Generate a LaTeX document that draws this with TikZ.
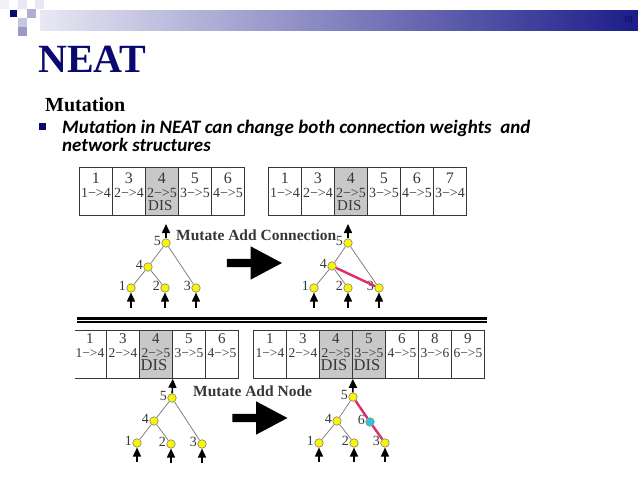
\documentclass[tikz,border=0pt]{standalone}
\usepackage{fontspec}
\setmainfont{Liberation Serif}
\newfontfamily\bulletfont{Carlito}
\usetikzlibrary{arrows.meta, shapes.arrows, calc}
\definecolor{barblue}{RGB}{28,28,138}
\definecolor{barlight}{RGB}{232,232,244}
\definecolor{titlenavy}{RGB}{10,10,110}
\definecolor{neuronyellow}{RGB}{250,245,0}
\definecolor{hiddencyan}{RGB}{40,200,225}
\definecolor{newpink}{RGB}{222,45,105}
\definecolor{disgray}{RGB}{200,200,200}
\definecolor{inkgray}{RGB}{55,55,55}

\begin{document}
\begin{tikzpicture}[x=1pt, y=-1pt,
    gene/.style={rectangle, draw=inkgray, line width=0.8pt, minimum width=33pt, minimum height=48pt, anchor=north west, inner sep=0pt},
    offgene/.style={gene, fill=disgray},
    num/.style={font=\fontsize{16}{16}\selectfont, text=inkgray, inner sep=0pt},
    con/.style={font=\fontsize{14}{14}\selectfont, text=inkgray, inner sep=0pt},
    dis/.style={font=\fontsize{15}{15}\selectfont, text=inkgray, inner sep=0pt, anchor=west},
    neuron/.style={circle, draw=gray, fill=neuronyellow, line width=0.6pt, minimum size=8.5pt, inner sep=0pt},
    hidden/.style={neuron, fill=hiddencyan},
    nid/.style={font=\fontsize{14}{14}\selectfont, text=inkgray, inner sep=0.5pt, yshift=2pt},
    link/.style={draw=gray, line width=0.8pt},
    newlink/.style={draw=newpink, line width=2.4pt},
    signal/.style={-{Triangle[width=8pt,length=9pt]}, line width=1.6pt, black},
    mutlabel/.style={font=\fontsize{15.5}{16}\selectfont\bfseries, text=inkgray, anchor=west, inner sep=0pt},
    bullettext/.style={font=\bulletfont\fontsize{19}{19}\selectfont\bfseries\itshape, anchor=base west, inner sep=0pt},
    bigarrow/.style={single arrow, fill=black, inner xsep=0pt, inner ysep=4pt, minimum height=55pt, single arrow head extend=12.5pt, single arrow tip angle=56}
]
    \useasboundingbox (0,0) rectangle (638,479);

    % slide header
    \fill[barlight!60] (0,0) rectangle (9,9);
    \fill[barlight] (18,0) rectangle (27,9);
    \fill[barlight] (35,0) rectangle (44,9);
    \fill[titlenavy] (10,10) rectangle (17,17);
    \fill[barblue!35] (27,9) rectangle (36,18);
    \fill[barblue!25] (18,18) rectangle (27,27);
    \fill[barblue!45] (18,27) rectangle (27,36);
    \shade[left color=barlight, right color=barblue] (40,10) rectangle (638,30);
    \node[font=\fontsize{9}{9}\selectfont, text=titlenavy!70!black] (pageno) at (628,20) {10};
    \node[font=\fontsize{40}{40}\selectfont\bfseries, text=titlenavy, anchor=base west, inner sep=0pt] (title) at (38,72) {NEAT};
    \node[font=\fontsize{20}{20}\selectfont\bfseries, anchor=base west, inner sep=0pt] (sub) at (45,111) {Mutation};
    \fill[titlenavy] (39,123) rectangle (46,130);
    \node[bullettext] (txt1) at (62,133) {Mutation in NEAT can change both connection weights \ and};
    \node[bullettext] (txt2) at (62,151) {network structures};

    % add connection: genomes
    \foreach \n/\c/\s [count=\i] in {1/1−>4/gene, 3/2−>4/gene, 4/2−>5/offgene, 5/3−>5/gene, 6/4−>5/gene} {
        \node[\s] (p\i) at (46+33*\i, 167) {};
        \node[num] at ([yshift=-11pt]p\i.north) {\n};
        \node[con] at ([yshift=-25.5pt]p\i.north) {\c};
    }
    \node[dis] at ([xshift=3pt, yshift=-14.5pt]p3.west) {DIS};
    \foreach \n/\c/\s [count=\i] in {1/1−>4/gene, 3/2−>4/gene, 4/2−>5/offgene, 5/3−>5/gene, 6/4−>5/gene, 7/3−>4/gene} {
        \node[\s] (r\i) at (235+33*\i, 167) {};
        \node[num] at ([yshift=-11pt]r\i.north) {\n};
        \node[con] at ([yshift=-25.5pt]r\i.north) {\c};
    }
    \node[dis] at ([xshift=3pt, yshift=-14.5pt]r3.west) {DIS};

    % add connection: networks
    \node[mutlabel] (addcon) at (176,235) {Mutate Add Connection};
    \node[neuron, label={[nid]left:5}] (a5) at (166,243) {};
    \node[neuron, label={[nid]left:4}] (a4) at (148,267) {};
    \node[neuron, label={[nid]left:1}] (a1) at (131,288) {};
    \node[neuron, label={[nid]left:2}] (a2) at (165,288) {};
    \node[neuron, label={[nid]left:3}] (a3) at (196,288) {};
    \draw[link] (a5) -- (a4);
    \draw[link] (a4) -- (a1);
    \draw[link] (a4) -- (a2);
    \draw[link] (a5) -- (a3);
    \coordinate (aout) at (166,224);
    \draw[signal] (a5) -- (aout);
    \foreach \k in {1,2,3} {
        \coordinate (ain\k) at ($(a\k)+(0,20)$);
        \draw[signal] (ain\k) -- (a\k);
    }

    \node[bigarrow] (mutA) at (250.5,263) {};

    \node[neuron, label={[nid]left:5}] (b5) at (348,243) {};
    \node[neuron, label={[nid]left:4}] (b4) at (332,266) {};
    \node[neuron, label={[nid]left:1}] (b1) at (314,288) {};
    \node[neuron, label={[nid]left:2}] (b2) at (348,288) {};
    \node[neuron, label={[nid]left:3}] (b3) at (379,288) {};
    \draw[link] (b5) -- (b4);
    \draw[link] (b4) -- (b1);
    \draw[link] (b4) -- (b2);
    \draw[link] (b5) -- (b3);
    \draw[newlink] (b4) -- (b3);
    \coordinate (bout) at (348,224);
    \draw[signal] (b5) -- (bout);
    \foreach \k in {1,2,3} {
        \coordinate (bin\k) at ($(b\k)+(0,20)$);
        \draw[signal] (bin\k) -- (b\k);
    }

    % divider
    \draw[line width=2.2pt] (77,318.5) -- (487,318.5);
    \draw[line width=2pt] (77,322) -- (487,322);

    % add node: genomes
    \begin{scope}
        \clip (75,325) rectangle (245,385);
        \foreach \n/\c/\s [count=\i] in {1/1−>4/gene, 3/2−>4/gene, 4/2−>5/offgene, 5/3−>5/gene, 6/4−>5/gene} {
            \node[\s] (q\i) at (40+33*\i, 330) {};
            \node[num, font=\fontsize{15}{15}\selectfont] at ([yshift=-8.5pt]q\i.north) {\n};
            \node[con, font=\fontsize{13.5}{14}\selectfont] at ([yshift=-23pt]q\i.north) {\c};
        }
    \end{scope}
    \node[dis, font=\fontsize{16.5}{17}\selectfont] at ([xshift=1.5pt, yshift=-11pt]q3.west) {DIS};
    \foreach \n/\c/\s [count=\i] in {1/1−>4/gene, 3/2−>4/gene, 4/2−>5/offgene, 5/3−>5/offgene, 6/4−>5/gene, 8/3−>6/gene, 9/6−>5/gene} {
        \node[\s] (s\i) at (220+33*\i, 330) {};
        \node[num, font=\fontsize{15}{15}\selectfont] at ([yshift=-8.5pt]s\i.north) {\n};
        \node[con, font=\fontsize{13.5}{14}\selectfont] at ([yshift=-23pt]s\i.north) {\c};
    }
    \node[dis, font=\fontsize{16.5}{17}\selectfont] at ([xshift=1.5pt, yshift=-11pt]s3.west) {DIS};
    \node[dis, font=\fontsize{16.5}{17}\selectfont] at ([xshift=1.5pt, yshift=-11pt]s4.west) {DIS};

    % add node: networks
    \node[mutlabel] (addnode) at (193,391) {Mutate Add Node};
    \node[neuron, label={[nid]left:5}] (c5) at (172,398) {};
    \node[neuron, label={[nid]left:4}] (c4) at (154,421) {};
    \node[neuron, label={[nid]left:1}] (c1) at (137,443) {};
    \node[neuron, label={[nid]left:2}] (c2) at (171,444) {};
    \node[neuron, label={[nid]left:3}] (c3) at (202,444) {};
    \draw[link] (c5) -- (c4);
    \draw[link] (c4) -- (c1);
    \draw[link] (c4) -- (c2);
    \draw[link] (c5) -- (c3);
    \draw[signal] (c5) -- (q3.south east);
    \foreach \k in {1,2,3} {
        \coordinate (cin\k) at ($(c\k)+(0,19)$);
        \draw[signal] (cin\k) -- (c\k);
    }

    \node[bigarrow] (mutB) at (256,418) {};

    \node[neuron, label={[nid]left:5}] (d5) at (353,397) {};
    \node[neuron, label={[nid]left:4}] (d4) at (337,421) {};
    \node[hidden, label={[nid]left:6}] (d6) at (370,422) {};
    \node[neuron, label={[nid]left:1}] (d1) at (319,443) {};
    \node[neuron, label={[nid]left:2}] (d2) at (354,443) {};
    \node[neuron, label={[nid]left:3}] (d3) at (385,443) {};
    \draw[link] (d5) -- (d4);
    \draw[link] (d4) -- (d1);
    \draw[link] (d4) -- (d2);
    \draw[newlink] (d5) -- (d6);
    \draw[newlink] (d6) -- (d3);
    \draw[signal] (d5) -- (s3.south east);
    \foreach \k in {1,2,3} {
        \coordinate (din\k) at ($(d\k)+(0,19)$);
        \draw[signal] (din\k) -- (d\k);
    }
\end{tikzpicture}
\end{document}
